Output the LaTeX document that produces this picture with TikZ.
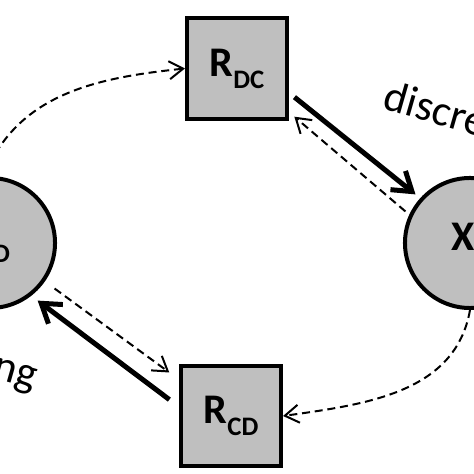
\documentclass[tikz,border=0pt]{standalone}
\usepackage{fontspec}
\setmainfont{Carlito}
\usetikzlibrary{arrows.meta}
\definecolor{fillgray}{gray}{0.75}
\newcommand{\lbl}[2]{{\fontsize{30}{30}\selectfont\bfseries #1\raisebox{-0.3cm}{\fontsize{19}{19}\selectfont #2}}}

\begin{document}
\begin{tikzpicture}[x=0.025cm,y=0.025cm,
  state/.style={draw,shape=circle,fill=fillgray,line width=0.1cm,minimum size=3.25cm,inner sep=0pt},
  rate/.style={draw,shape=rectangle,fill=fillgray,line width=0.1cm,minimum size=2.5cm,inner sep=0pt},
  flow/.style={line width=0.125cm,-{Straight Barb[length=0.45cm,width=0.6cm]}},
  back/.style={line width=0.05cm,dash pattern=on 0.2cm off 0.12cm,-{Straight Barb[length=0.35cm,width=0.45cm]}},
  note/.style={font=\fontsize{31}{31}\selectfont}]
		\useasboundingbox (0,0) rectangle (474,474);
		%%%
		\node[state] (XD) at (-10,231) {\lbl{X}{D}};
		\node[state] (XC) at (470,231) {\lbl{X}{C}};
		\node[rate] (RDC) at (237,405.5) {\lbl{R}{DC}};
		\node[rate] (RCD) at (231,58) {\lbl{R}{CD}};
		\node[note,rotate=-16,anchor=base west] (disc) at (377,367) {discre};
		\node[note,rotate=-16,anchor=base east] (ng) at (38,83) {ng};
		%%%
		\draw[flow,shorten <=0.175cm,shorten >=0.15cm] (RDC.-25) -- (XC.138);
		\draw[back,shorten <=0.125cm,shorten >=0.175cm] (XC.155) -- (RDC.-40);
		\draw[flow,shorten <=0.3cm,shorten >=0.2cm] (RCD.170) -- (XD.-52);
		\draw[back,shorten <=0.3cm,shorten >=0.3cm] (XD.-35) -- (RCD.145);
		\draw[back] (XD.95) to[out=68,in=186] (RDC.west);
		\draw[back] (XC.south) to[out=-100,in=8] (RCD.east);
	\end{tikzpicture}
\end{document}
